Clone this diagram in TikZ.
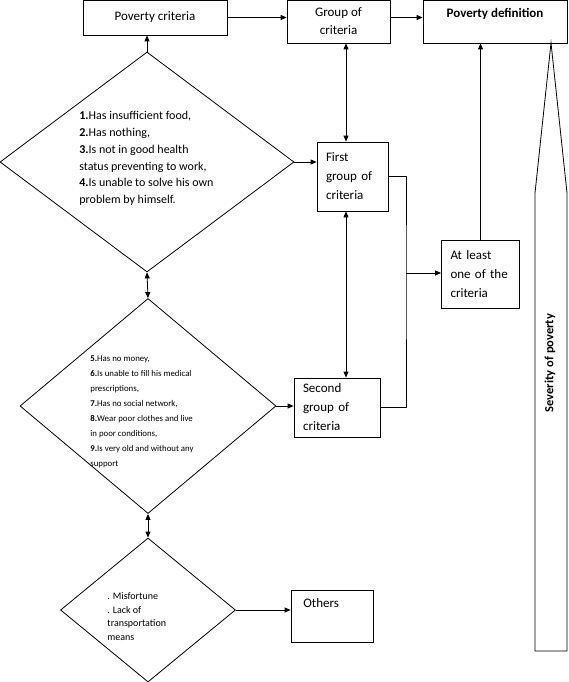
\documentclass[tikz,border=0pt]{standalone}
\usepackage{fontspec}
\setmainfont{Carlito}
\usepackage{tikz}
\usetikzlibrary{positioning,shapes,arrows.meta,calc}

\begin{document}
\begin{tikzpicture}[
x=1pt,y=-1pt,
line width=0.8pt,
>={Triangle[length=6pt,width=5pt]},
mybox/.style={
  draw,
  rectangle,
  inner sep=0pt,
  font=\fontsize{13}{18}\selectfont},
mylbox/.style={
  draw,
  rectangle,
  inner xsep=9pt,
  inner ysep=4pt,
  align=left,
  font=\fontsize{13}{19}\selectfont},
mydiam/.style={
  draw,
  diamond,
  inner sep=0pt},
mytext/.style={
  anchor=west,
  align=left,
  inner sep=0pt}
]
\useasboundingbox (0,0) rectangle (568,682);
% top row
\node[mybox, minimum width=144pt, minimum height=35pt] (pc) at (155,17.5) {Poverty criteria};
\node[mybox, minimum width=103pt, minimum height=43pt, align=center] (goc) at (338.5,21.5) {Group of\\criteria};
\node[mybox, minimum width=144pt, minimum height=43pt,
  label={[anchor=north, yshift=-5pt, font=\fontsize{13}{15}\selectfont\bfseries]north:Poverty definition}] (pd) at (495,21.5) {};
% diamonds
\node[mydiam, minimum width=294pt, minimum height=220pt] (d1) at (147,162) {};
\node[mydiam, minimum width=256pt, minimum height=215pt] (d2) at (148,406) {};
\node[mydiam, minimum width=175pt, minimum height=144pt] (d3) at (148,610) {};
\node[mytext, font=\fontsize{12}{16.7}\selectfont] (t1) at (79,158.5)
  {\textbf{1.}Has insufficient food,\\\textbf{2.}Has nothing,\\\textbf{3.}Is not in good health\\status preventing to work,\\\textbf{4.}Is unable to solve his own\\problem by himself.};
\node[mytext, font=\fontsize{8.8}{15}\selectfont] (t2) at (90,411.5)
  {\textbf{5.}Has no money,\\\textbf{6.}Is unable to fill his medical\\prescriptions,\\\textbf{7.}Has no social network,\\\textbf{8.}Wear poor clothes and live\\in poor conditions,\\\textbf{9.}Is very old and without any\\support};
\node[mytext, font=\fontsize{10}{13.7}\selectfont] (t3) at (107,616.5)
  {. Misfortune\\. Lack of\\transportation\\means};
% criteria boxes
\node[mylbox, text width=53pt, minimum height=69pt] (first) at (352.5,176.5) {First\\group of\\criteria};
\node[mylbox, text width=60pt, minimum height=68pt] (atleast) at (480.5,274) {At least\\one of the\\criteria};
\node[mylbox, text width=68pt, minimum height=59pt] (second) at (337,407.5) {Second\\group of\\criteria};
\node[mybox, minimum width=82pt, minimum height=52pt,
  label={[anchor=north west, xshift=9pt, yshift=-5pt, font=\fontsize{13}{15}\selectfont]north west:Others}] (others) at (332,616) {};
% arrows
\draw[->] (pc.east) -- (pc.east -| goc.west);
\draw[->] (pc.east -| goc.east) -- (pc.east -| pd.west);
\draw[->] (d1.north) -- (d1.north |- pc.south);
\draw[->] (d1.east) -- (d1.east -| first.west);
\draw[->] (d2.east) -- (d2.east -| second.west);
\draw[->] (d3.east) -- (d3.east -| others.west);
\draw[<->] ([xshift=-6.5pt]first.north |- goc.south) -- ([xshift=-6.5pt]first.north);
\draw[<->] ([xshift=-6.5pt]first.south) -- ([xshift=-6.5pt]first.south |- second.north);
\foreach \Top/\Bot in {d1/d2,d2/d3}
  \draw[<->] (\Top.south) -- (\Bot.north);
\coordinate (jn) at (406,273);
\draw (first.east) -| (jn) |- (second.east);
\draw[->] (jn) -- (jn -| atleast.west);
\draw[->] (atleast.north) -- (atleast.north |- pd.south);
% severity spike
\draw (551,43) coordinate (sp) -- (535,193) -- (535,651) -- (567,651) -- (567,193) -- cycle;
\node[rotate=90, font=\fontsize{12.5}{14}\selectfont\bfseries] (sev) at (550,363) {Severity of poverty};
\end{tikzpicture}
\end{document}
